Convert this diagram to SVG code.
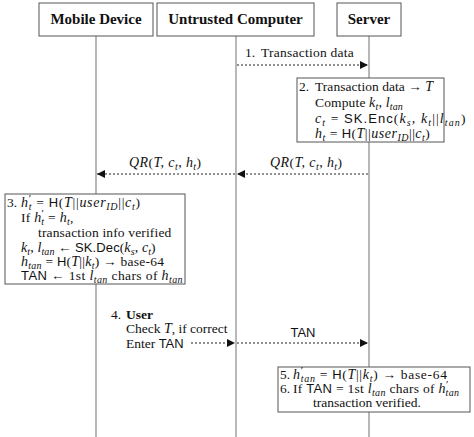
<svg xmlns="http://www.w3.org/2000/svg" width="474" height="437" viewBox="0 0 474 437">
<style>
text{font-family:"Liberation Serif","Times New Roman",serif;font-size:13.5px;fill:#111}
.h{font-weight:bold;font-size:15px;text-anchor:middle}
.i{font-style:italic;font-size:14px}
.sf{font-family:"Liberation Sans",Arial,sans-serif;font-size:13px}
.sub{font-size:10px;font-style:italic;baseline-shift:-3px}
.pr{font-size:11px;baseline-shift:5px}
.box{fill:#fff;stroke:#555;stroke-width:1}
.life{stroke:#888;stroke-width:1.2;fill:none}
.msg{stroke:#222;stroke-width:1;stroke-dasharray:2,2;fill:none}
</style>
<defs>
<marker id="ah" viewBox="0 0 10 10" refX="10" refY="5" markerWidth="8" markerHeight="8" markerUnits="userSpaceOnUse" orient="auto">
<path d="M0,0 L10,5 L0,10 z" fill="#111"/>
</marker>
</defs>
<rect width="474" height="437" fill="#fff"/>
<g id="lifelines">
<line class="life" x1="96" y1="36" x2="96" y2="437"/>
<line class="life" x1="236" y1="36" x2="236" y2="437"/>
<line class="life" x1="369" y1="36" x2="369" y2="437"/>
</g>
<g id="mobile">
<rect class="box" x="39" y="3" width="114" height="33"/>
<text class="h" x="96" y="24">Mobile Device</text>
</g>
<g id="computer">
<rect class="box" x="157" y="3" width="157" height="33"/>
<text class="h" x="235.5" y="24">Untrusted Computer</text>
</g>
<g id="server">
<rect class="box" x="337" y="3" width="64" height="33"/>
<text class="h" x="369" y="24">Server</text>
</g>
<g id="connectors">
<line class="msg" x1="237" y1="65" x2="368" y2="65" marker-end="url(#ah)"/>
<line class="msg" x1="368" y1="174" x2="237" y2="174" marker-end="url(#ah)"/>
<line class="msg" x1="235" y1="174" x2="97" y2="174" marker-end="url(#ah)"/>
<line class="msg" x1="191" y1="343" x2="235" y2="343" marker-end="url(#ah)"/>
<line class="msg" x1="237" y1="343" x2="368" y2="343" marker-end="url(#ah)"/>
</g>
<g id="labels">
<text x="245" y="57">1.</text>
<text x="261" y="57" letter-spacing="0.25">Transaction data</text>
<text x="129" y="167" letter-spacing="0.4"><tspan class="i">QR</tspan>(<tspan class="i">T, c</tspan><tspan class="sub">t</tspan><tspan class="i">, h</tspan><tspan class="sub">t</tspan>)</text>
<text x="270" y="167" letter-spacing="0.4"><tspan class="i">QR</tspan>(<tspan class="i">T, c</tspan><tspan class="sub">t</tspan><tspan class="i">, h</tspan><tspan class="sub">t</tspan>)</text>
<text class="sf" x="303" y="337" text-anchor="middle">TAN</text>
</g>
<g id="step2">
<rect class="box" x="297" y="78" width="147" height="64"/>
<text x="299" y="91">2.</text>
<text x="315" y="91" letter-spacing="0.05">Transaction data → <tspan class="i">T</tspan></text>
<text x="315" y="107" letter-spacing="0.15">Compute <tspan class="i">k</tspan><tspan class="sub">t</tspan><tspan class="i">, l</tspan><tspan class="sub">tan</tspan></text>
<text x="315" y="123" letter-spacing="1.1"><tspan class="i">c</tspan><tspan class="sub">t</tspan> = <tspan class="sf">SK.Enc</tspan>(<tspan class="i">k</tspan><tspan class="sub">s</tspan><tspan class="i">, k</tspan><tspan class="sub">t</tspan>||<tspan class="i">l</tspan><tspan class="sub">tan</tspan>)</text>
<text x="315" y="138" letter-spacing="0.5"><tspan class="i">h</tspan><tspan class="sub">t</tspan> = <tspan class="sf">H</tspan>(<tspan class="i">T</tspan>||<tspan class="i">user</tspan><tspan class="sub">ID</tspan>||<tspan class="i">c</tspan><tspan class="sub">t</tspan>)</text>
</g>
<g id="step3">
<rect class="box" x="5" y="194" width="180" height="90"/>
<text x="7" y="207">3.</text>
<text x="21" y="207" letter-spacing="0.7"><tspan class="i">h</tspan><tspan class="pr">′</tspan><tspan class="sub" dx="-3">t</tspan> = <tspan class="sf">H</tspan>(<tspan class="i">T</tspan>||<tspan class="i">user</tspan><tspan class="sub">ID</tspan>||<tspan class="i">c</tspan><tspan class="sub">t</tspan>)</text>
<text x="21" y="222" letter-spacing="0.3">If <tspan class="i">h</tspan><tspan class="pr">′</tspan><tspan class="sub" dx="-3">t</tspan> = <tspan class="i">h</tspan><tspan class="sub">t</tspan>,</text>
<text x="38" y="237" letter-spacing="0.15">transaction info verified</text>
<text x="21" y="252" letter-spacing="0.1"><tspan class="i">k</tspan><tspan class="sub">t</tspan><tspan class="i">, l</tspan><tspan class="sub">tan</tspan> ← <tspan class="sf">SK.Dec</tspan>(<tspan class="i">k</tspan><tspan class="sub">s</tspan><tspan class="i">, c</tspan><tspan class="sub">t</tspan>)</text>
<text x="21" y="266" letter-spacing="0.25"><tspan class="i">h</tspan><tspan class="sub">tan</tspan> = <tspan class="sf">H</tspan>(<tspan class="i">T</tspan>||<tspan class="i">k</tspan><tspan class="sub">t</tspan>) → base-64</text>
<text x="21" y="280" letter-spacing="0.4"><tspan class="sf">TAN</tspan> ← 1st <tspan class="i">l</tspan><tspan class="sub">tan</tspan> chars of <tspan class="i">h</tspan><tspan class="sub">tan</tspan></text>
</g>
<g id="step4">
<text x="111" y="319">4.</text>
<text x="126" y="319" font-weight="bold">User</text>
<text x="126" y="333">Check <tspan class="i">T</tspan>, if correct</text>
<text x="126" y="348">Enter <tspan class="sf">TAN</tspan></text>
</g>
<g id="step56">
<rect class="box" x="278" y="367" width="192" height="45"/>
<text x="280" y="379">5.</text>
<text x="293" y="379" letter-spacing="0.7"><tspan class="i">h</tspan><tspan class="pr">′</tspan><tspan class="sub" dx="-3">tan</tspan> = <tspan class="sf">H</tspan>(<tspan class="i">T</tspan>||<tspan class="i">k</tspan><tspan class="sub">t</tspan>) → base-64</text>
<text x="280" y="393">6.</text>
<text x="293" y="393" letter-spacing="0.3">If <tspan class="sf">TAN</tspan> = 1st <tspan class="i">l</tspan><tspan class="sub">tan</tspan> chars of <tspan class="i">h</tspan><tspan class="pr">′</tspan><tspan class="sub" dx="-3">tan</tspan></text>
<text x="367" y="407" text-anchor="middle">transaction verified.</text>
</g>
</svg>
